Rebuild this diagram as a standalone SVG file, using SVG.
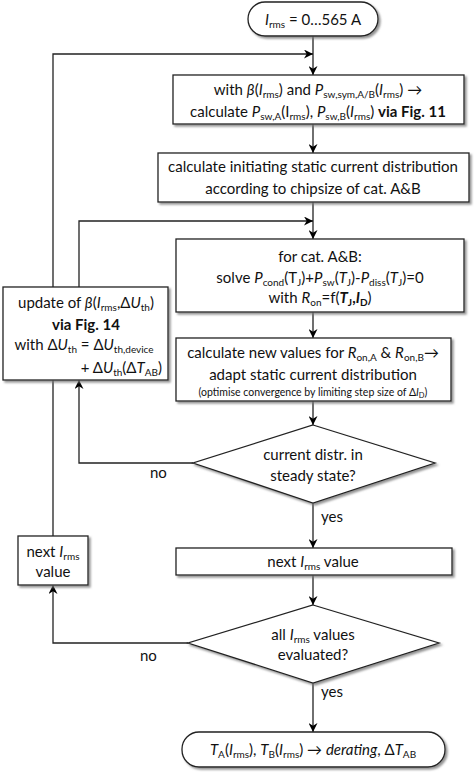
<svg xmlns="http://www.w3.org/2000/svg" width="474" height="772" viewBox="0 0 474 772">
<defs>
<filter id="sh" x="-10%" y="-10%" width="130%" height="140%">
<feDropShadow dx="2" dy="2" stdDeviation="1.2" flood-color="#777" flood-opacity="0.8"/>
</filter>
<marker id="ar" viewBox="0 0 10 10" refX="10" refY="5" markerWidth="9" markerHeight="9" orient="auto" markerUnits="userSpaceOnUse">
<path d="M0,0 L10,5 L0,10 L3,5 z" fill="#000"/>
</marker>
</defs>
<style>
.n{fill:#fff;stroke:#222;stroke-width:1.3;filter:url(#sh)}
.c{fill:none;stroke:#222;stroke-width:1.3}
text{font-family:Lato,"Liberation Sans",sans-serif;font-size:15px;fill:#111;text-anchor:middle}
.i{font-style:italic}
.b{font-weight:bold}
.s{font-size:10px}
.sm{font-size:10.5px}
.lbl{text-anchor:start}
</style>
<rect width="474" height="772" fill="#fff"/>
<g id="connectors">
<path class="c" d="M313,36 V75" marker-end="url(#ar)"/>
<path class="c" d="M53,536 V54 H313" marker-end="url(#ar)"/>
<path class="c" d="M313,124 V153" marker-end="url(#ar)"/>
<path class="c" d="M313,202 V239" marker-end="url(#ar)"/>
<path class="c" d="M79,287 V221 H313" marker-end="url(#ar)"/>
<path class="c" d="M313,312 V338" marker-end="url(#ar)"/>
<path class="c" d="M313,401 V425" marker-end="url(#ar)"/>
<path class="c" d="M193,463 H79 V380" marker-end="url(#ar)"/>
<path class="c" d="M313,503 V548" marker-end="url(#ar)"/>
<path class="c" d="M313,575 V605" marker-end="url(#ar)"/>
<path class="c" d="M188,643 H53 V585" marker-end="url(#ar)"/>
<path class="c" d="M313,683 V732" marker-end="url(#ar)"/>
<text class="lbl" x="150" y="478">no</text>
<text class="lbl" x="321" y="522">yes</text>
<text class="lbl" x="140" y="661">no</text>
<text class="lbl" x="321" y="697">yes</text>
</g>
<g id="start">
<rect class="n" x="248" y="2" width="130" height="34" rx="17"/>
<text x="313" y="25"><tspan class="i">I</tspan><tspan class="s" dy="3">rms</tspan><tspan dy="-3"> = 0…565 A</tspan></text>
</g>
<g id="box1">
<rect class="n" x="173" y="75" width="291" height="49"/>
<text x="318" y="95">with <tspan class="i">β</tspan>(<tspan class="i">I</tspan><tspan class="s" dy="3">rms</tspan><tspan dy="-3">) and </tspan><tspan class="i">P</tspan><tspan class="s" dy="3">sw,sym,A/B</tspan><tspan dy="-3">(</tspan><tspan class="i">I</tspan><tspan class="s" dy="3">rms</tspan><tspan dy="-3">) →</tspan></text>
<text x="318" y="117">calculate <tspan class="i">P</tspan><tspan class="s" dy="3">sw,A</tspan><tspan dy="-3">(I</tspan><tspan class="s" dy="3">rms</tspan><tspan dy="-3">), </tspan><tspan class="i">P</tspan><tspan class="s" dy="3">sw,B</tspan><tspan dy="-3">(</tspan><tspan class="i">I</tspan><tspan class="s" dy="3">rms</tspan><tspan dy="-3">) </tspan><tspan class="b">via Fig. 11</tspan></text>
</g>
<g id="box2">
<rect class="n" x="158" y="153" width="311" height="49"/>
<text x="313" y="172">calculate initiating static current distribution</text>
<text x="313" y="194">according to chipsize of cat. A&amp;B</text>
</g>
<g id="box3">
<rect class="n" x="176" y="239" width="288" height="73"/>
<text x="320" y="262">for cat. A&amp;B:</text>
<text x="320" y="283">solve <tspan class="i">P</tspan><tspan class="s" dy="3">cond</tspan><tspan dy="-3">(T</tspan><tspan class="s" dy="3">J</tspan><tspan dy="-3">)+</tspan><tspan class="i">P</tspan><tspan class="s" dy="3">sw</tspan><tspan dy="-3">(</tspan><tspan class="i">T</tspan><tspan class="s" dy="3">J</tspan><tspan dy="-3">)-</tspan><tspan class="i">P</tspan><tspan class="s" dy="3">diss</tspan><tspan dy="-3">(</tspan><tspan class="i">T</tspan><tspan class="s" dy="3">J</tspan><tspan dy="-3">)=0</tspan></text>
<text x="320" y="303">with <tspan class="i">R</tspan><tspan class="s" dy="3">on</tspan><tspan dy="-3">=f(</tspan><tspan class="i b">T</tspan><tspan class="s b" dy="3">J</tspan><tspan class="b" dy="-3">,</tspan><tspan class="i b">I</tspan><tspan class="s b" dy="3">D</tspan><tspan dy="-3">)</tspan></text>
</g>
<g id="box4">
<rect class="n" x="176" y="338" width="275" height="63"/>
<text x="313" y="358">calculate new values for <tspan class="i">R</tspan><tspan class="s" dy="3">on,A</tspan><tspan dy="-3"> &amp; </tspan><tspan class="i">R</tspan><tspan class="s" dy="3">on,B</tspan><tspan dy="-3">→</tspan></text>
<text x="313" y="380">adapt static current distribution</text>
<text class="sm" x="313" y="396">(optimise convergence by limiting step size of Δ<tspan class="i">I</tspan><tspan font-size="7.5" dy="2">D</tspan><tspan dy="-2">)</tspan></text>
</g>
<g id="update">
<rect class="n" x="3" y="287" width="165" height="93"/>
<text x="86" y="308">update of <tspan class="i">β</tspan>(<tspan class="i">I</tspan><tspan class="s" dy="3">rms</tspan><tspan dy="-3">,Δ</tspan><tspan class="i">U</tspan><tspan class="s" dy="3">th</tspan><tspan dy="-3">)</tspan></text>
<text class="b" x="86" y="330">via Fig. 14</text>
<text x="84" y="350">with Δ<tspan class="i">U</tspan><tspan class="s" dy="3">th</tspan><tspan dy="-3"> = Δ</tspan><tspan class="i">U</tspan><tspan class="s" dy="3">th,device</tspan></text>
<text x="162" y="373" style="text-anchor:end">+ Δ<tspan class="i">U</tspan><tspan class="s" dy="3">th</tspan><tspan dy="-3">(Δ</tspan><tspan class="i">T</tspan><tspan class="s" dy="3">AB</tspan><tspan dy="-3">)</tspan></text>
</g>
<g id="decision1">
<polygon class="n" points="313,425 435,463 313,503 193,463"/>
<text x="313" y="460">current distr. in</text>
<text x="313" y="481">steady state?</text>
</g>
<g id="box5">
<rect class="n" x="176" y="548" width="276" height="27"/>
<text x="313" y="567">next <tspan class="i">I</tspan><tspan class="s" dy="3">rms</tspan><tspan dy="-3"> value</tspan></text>
</g>
<g id="decision2">
<polygon class="n" points="313,605 439,643 313,683 188,643"/>
<text x="313" y="640">all <tspan class="i">I</tspan><tspan class="s" dy="3">rms</tspan><tspan dy="-3"> values</tspan></text>
<text x="313" y="660">evaluated?</text>
</g>
<g id="nextleft">
<rect class="n" x="18" y="536" width="70" height="49"/>
<text x="53" y="557">next <tspan class="i">I</tspan><tspan class="s" dy="3">rms</tspan></text>
<text x="53" y="577">value</text>
</g>
<g id="end">
<rect class="n" x="182" y="732" width="263" height="35" rx="17"/>
<text x="313" y="755"><tspan class="i">T</tspan><tspan class="s" dy="3">A</tspan><tspan dy="-3">(</tspan><tspan class="i">I</tspan><tspan class="s" dy="3">rms</tspan><tspan dy="-3">), </tspan><tspan class="i">T</tspan><tspan class="s" dy="3">B</tspan><tspan dy="-3">(</tspan><tspan class="i">I</tspan><tspan class="s" dy="3">rms</tspan><tspan dy="-3">) → </tspan><tspan class="i">derating</tspan>, Δ<tspan class="i">T</tspan><tspan class="s" dy="3">AB</tspan></text>
</g>
</svg>
